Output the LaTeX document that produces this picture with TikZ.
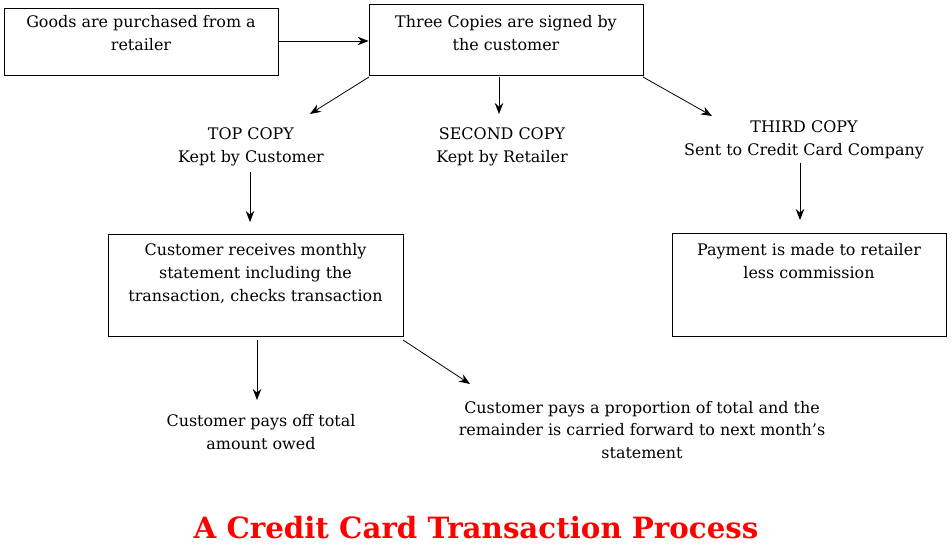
\documentclass[tikz,border=0pt]{standalone}
\usepackage{fontspec}
\setmainfont{DejaVu Serif}
\usetikzlibrary{arrows.meta}
\begin{document}
\begin{tikzpicture}[x=1bp,y=-1bp,
  box/.style={draw,line width=0.8pt,inner sep=0pt},
  txt/.style={align=center,font=\fontsize{16}{23}\selectfont},
  arr/.style={-{Stealth[length=11pt,width=8.5pt]},line width=0.8pt}]
\useasboundingbox (0,0) rectangle (952,549);
\node[box,minimum width=274bp,minimum height=67bp] (b1) at (141,41.5) {};
\node[txt,anchor=north] (t1) at (141,12) {Goods are purchased from a\\retailer};
\node[box,minimum width=274bp,minimum height=71bp] (b2) at (506,39.5) {};
\node[txt,anchor=north] (t2) at (506,12) {Three Copies are signed by\\the customer};
\node[txt] (top) at (251,147) {TOP COPY\\Kept by Customer};
\node[txt] (sec) at (502,147) {SECOND COPY\\Kept by Retailer};
\node[txt] (thi) at (804,140) {THIRD COPY\\Sent to Credit Card Company};
\node[box,minimum width=295bp,minimum height=102bp] (b3) at (255.5,285) {};
\node[txt,anchor=north] (t3) at (255.5,240) {Customer receives monthly\\statement including the\\transaction, checks transaction};
\node[box,minimum width=274bp,minimum height=103bp] (b4) at (809,284.5) {};
\node[txt,anchor=north] (t4) at (809,240) {Payment is made to retailer\\less commission};
\node[txt] (p1) at (261,432) {Customer pays off total\\amount owed};
\node[txt] (p2) at (642,430) {Customer pays a proportion of total and the\\remainder is carried forward to next month's\\statement};
\node[font=\fontsize{29.4}{34}\selectfont\bfseries,text=red] (title) at (476,528) {A Credit Card Transaction Process};
\coordinate (a1) at (310,114);
\coordinate (a2) at (499,114);
\coordinate (a3) at (712,116);
\draw[arr] (b1.east |- 0,41) -- (b2.west |- 0,41);
\draw[arr] (369,77) -- (a1);
\draw[arr] (499,77) -- (a2);
\draw[arr] (643,77) -- (a3);
\draw[arr] (250,172) -- (250,222);
\draw[arr] (800,163) -- (800,220);
\draw[arr] (257,340) -- (257,400);
\draw[arr] (403,340) -- (470,384);
\end{tikzpicture}
\end{document}
